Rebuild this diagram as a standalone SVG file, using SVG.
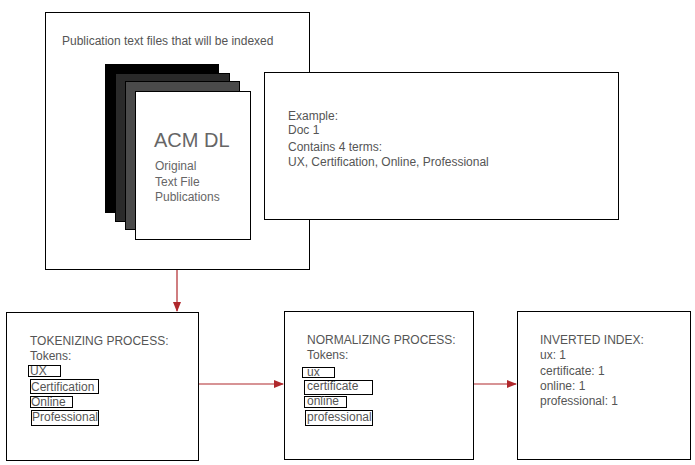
<svg xmlns="http://www.w3.org/2000/svg" width="695" height="465" viewBox="0 0 695 465">
<style>
text{font-family:"Liberation Sans",Arial,sans-serif;font-size:12px;fill:#555}
.b{fill:#fff;stroke:#000;stroke-width:1}
.t{fill:none;stroke:#000;stroke-width:1}
.c{stroke:#b0282c;stroke-width:1.2;fill:none}
</style>
<defs><marker id="a" markerWidth="10" markerHeight="8" refX="9" refY="4" orient="auto" markerUnits="userSpaceOnUse"><path d="M0,0L10,4L0,8z" fill="#b0282c"/></marker></defs>
<rect width="695" height="465" fill="#fff"/>
<g id="source">
<rect class="b" x="45.5" y="12.5" width="264" height="257"/>
<text x="62" y="45">Publication text files that will be indexed</text>
<rect x="105" y="64" width="114" height="149" fill="#000"/>
<rect x="115.5" y="73.5" width="114" height="148" fill="#2a2a2a" stroke="#000"/>
<rect x="125.5" y="81.5" width="114" height="148" fill="#4a4a4a" stroke="#000"/>
<rect class="b" x="135.5" y="91.5" width="115" height="148"/>
<text x="154" y="147" style="font-size:20px;fill:#666">ACM DL</text>
<text x="155" y="170" style="fill:#666">Original</text>
<text x="155" y="186" style="fill:#666">Text File</text>
<text x="155" y="201" style="fill:#666">Publications</text>
</g>
<g id="example">
<rect class="b" x="264.5" y="72.5" width="354" height="147"/>
<text x="288" y="120">Example:</text>
<text x="288" y="134">Doc 1</text>
<text x="288" y="151">Contains 4 terms:</text>
<text x="288" y="166">UX, Certification, Online, Professional</text>
</g>
<g id="tokenizing">
<rect class="b" x="6.5" y="312.5" width="192" height="148"/>
<text x="30" y="345">TOKENIZING PROCESS:</text>
<text x="30" y="360">Tokens:</text>
<rect class="t" x="28.5" y="365.5" width="32" height="11"/><text x="30" y="375">UX</text>
<rect class="t" x="30.5" y="379.5" width="68" height="14"/><text x="31" y="391">Certification</text>
<rect class="t" x="30.5" y="396.5" width="42" height="11"/><text x="31" y="406">Online</text>
<rect class="t" x="31.5" y="410.5" width="67" height="15"/><text x="32" y="421">Professional</text>
</g>
<g id="normalizing">
<rect class="b" x="284.5" y="311.5" width="189" height="148"/>
<text x="307" y="344">NORMALIZING PROCESS:</text>
<text x="307" y="359">Tokens:</text>
<rect class="t" x="302.5" y="367.5" width="32" height="10"/><text x="307" y="376">ux</text>
<rect class="t" x="304.5" y="380.5" width="68" height="14"/><text x="307" y="390">certificate</text>
<rect class="t" x="304.5" y="396.5" width="42" height="11"/><text x="307" y="405">online</text>
<rect class="t" x="305.5" y="410.5" width="67" height="15"/><text x="307" y="421">professional</text>
</g>
<g id="inverted">
<rect class="b" x="517.5" y="311.5" width="173" height="148"/>
<text x="540" y="344">INVERTED INDEX:</text>
<text x="540" y="359">ux: 1</text>
<text x="540" y="375">certificate: 1</text>
<text x="540" y="390">online: 1</text>
<text x="540" y="405">professional: 1</text>
</g>
<g id="connectors">
<line class="c" x1="177" y1="270" x2="177" y2="311" marker-end="url(#a)"/>
<line class="c" x1="199" y1="384" x2="283" y2="384" marker-end="url(#a)"/>
<line class="c" x1="474" y1="384" x2="516" y2="384" marker-end="url(#a)"/>
</g>
</svg>
